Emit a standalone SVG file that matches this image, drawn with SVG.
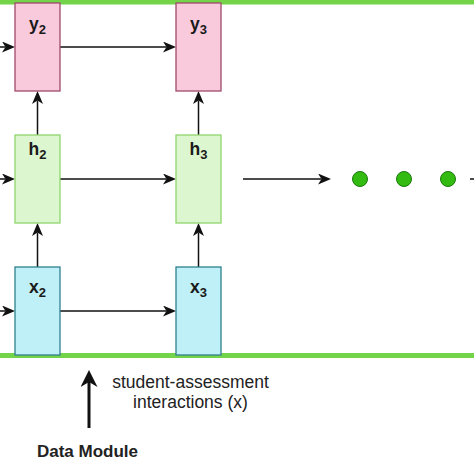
<svg xmlns="http://www.w3.org/2000/svg" width="474" height="474" viewBox="0 0 474 474">
<style>
.y{fill:#f9c9dc;stroke:#a04a6a;stroke-width:1.3}
.h{fill:#dcf7cf;stroke:#8fd66e;stroke-width:1.3}
.x{fill:#bff0f7;stroke:#2f8090;stroke-width:1.3}
.lbl{font-family:"Liberation Sans",Arial,sans-serif;font-weight:bold;font-size:17.5px;fill:#1a1a1a;text-anchor:middle}
.sub{font-size:13px}
.edge{stroke:#111;stroke-width:1.5;fill:none;marker-end:url(#arr)}
.band{stroke:#73d44a;stroke-width:5}
.dot{fill:#33bb11;stroke:#1a7a0a;stroke-width:1}
.txt{font-family:"Liberation Sans",Arial,sans-serif;font-size:17.5px;fill:#222;text-anchor:middle}
</style>
<defs>
<marker id="arr" markerUnits="userSpaceOnUse" markerWidth="13" markerHeight="11" refX="3.5" refY="5.5" orient="auto">
<path d="M0,0 L13,5.5 L0,11 L3.5,5.5 Z" fill="#111"/>
</marker>
<marker id="big" markerUnits="userSpaceOnUse" markerWidth="17" markerHeight="17" refX="5" refY="8.5" orient="auto">
<path d="M0,0 L17,8.5 L0,17 L5,8.5 Z" fill="#111"/>
</marker>
</defs>
<rect width="474" height="474" fill="#fff"/>
<g id="bands">
<line class="band" x1="0" y1="2" x2="474" y2="2"/>
<line class="band" x1="0" y1="355.5" x2="474" y2="355.5"/>
</g>
<g id="connectors">
<line class="edge" x1="0" y1="47" x2="5.5" y2="47"/>
<line class="edge" x1="60" y1="47" x2="166.5" y2="47"/>
<line class="edge" x1="0" y1="179" x2="5.5" y2="179"/>
<line class="edge" x1="60" y1="179" x2="166.5" y2="179"/>
<line class="edge" x1="0" y1="311" x2="5.5" y2="311"/>
<line class="edge" x1="60" y1="311" x2="166.5" y2="311"/>
<line class="edge" x1="37.5" y1="135" x2="37.5" y2="100.5"/>
<line class="edge" x1="37.5" y1="267" x2="37.5" y2="232.5"/>
<line class="edge" x1="198.5" y1="135" x2="198.5" y2="100.5"/>
<line class="edge" x1="198.5" y1="267" x2="198.5" y2="232.5"/>
<line class="edge" x1="243" y1="179" x2="321.5" y2="179"/>
<line x1="470" y1="179" x2="474" y2="179" stroke="#111" stroke-width="1.5"/>
<line x1="89" y1="428" x2="89" y2="382" stroke="#111" stroke-width="3" marker-end="url(#big)"/>
</g>
<g id="node-y2"><rect class="y" x="15" y="3" width="45" height="88"/><text class="lbl" x="37.5" y="30">y<tspan class="sub" dy="4">2</tspan></text></g>
<g id="node-y3"><rect class="y" x="176" y="3" width="45" height="88"/><text class="lbl" x="198.5" y="30">y<tspan class="sub" dy="4">3</tspan></text></g>
<g id="node-h2"><rect class="h" x="15" y="135" width="45" height="88"/><text class="lbl" x="37.5" y="155">h<tspan class="sub" dy="4">2</tspan></text></g>
<g id="node-h3"><rect class="h" x="176" y="135" width="45" height="88"/><text class="lbl" x="198.5" y="155">h<tspan class="sub" dy="4">3</tspan></text></g>
<g id="node-x2"><rect class="x" x="15" y="267" width="45" height="88"/><text class="lbl" x="37.5" y="293">x<tspan class="sub" dy="4">2</tspan></text></g>
<g id="node-x3"><rect class="x" x="176" y="267" width="45" height="88"/><text class="lbl" x="198.5" y="293">x<tspan class="sub" dy="4">3</tspan></text></g>
<g id="ellipsis">
<circle class="dot" cx="360" cy="179" r="7.5"/>
<circle class="dot" cx="404" cy="179" r="7.5"/>
<circle class="dot" cx="448" cy="179" r="7.5"/>
</g>
<g id="caption">
<text class="txt" x="190.5" y="388">student-assessment</text>
<text class="txt" x="190.5" y="408">interactions (x)</text>
<text class="txt" x="87.5" y="457" style="font-weight:bold;font-size:17px">Data Module</text>
</g>
</svg>
